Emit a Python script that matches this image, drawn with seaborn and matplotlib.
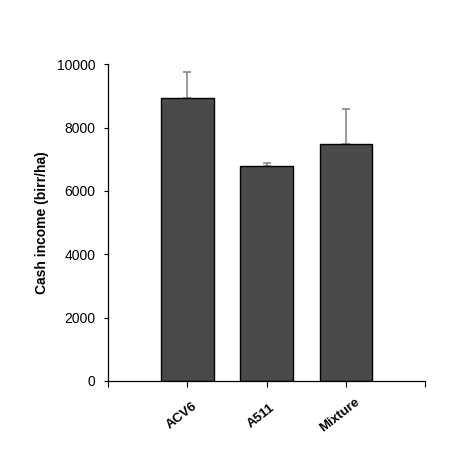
import matplotlib
matplotlib.use("Agg")
import matplotlib.pyplot as plt
import matplotlib.transforms as mtransforms
import seaborn as sns
import pandas as pd

# Data
varieties = ["ACV6", "A511", "Mixture"]
cash_income = [8920, 6790, 7490]
income_err = [820, 105, 1080]

sns.set_style("ticks")
plt.rcParams['font.family'] = ['Liberation Sans', 'DejaVu Sans']
plt.rcParams['text.color'] = 'black'
plt.rcParams['axes.labelcolor'] = 'black'
plt.rcParams['xtick.color'] = 'black'
plt.rcParams['ytick.color'] = 'black'
plt.rcParams['axes.edgecolor'] = 'black'

df = pd.DataFrame({"variety": varieties, "income": cash_income})

fig = plt.figure(figsize=(4.74, 4.72), dpi=100)
ax = fig.add_axes([0.228, 0.193, 0.669, 0.671])

sns.barplot(data=df, x="variety", y="income", color="#4a4a4a",
            edgecolor="black", linewidth=1.0, width=0.66, saturation=1,
            errorbar=None, ax=ax, zorder=2)

# upper-only error bars
ax.errorbar(range(len(varieties)), cash_income, yerr=[[0] * len(varieties), income_err],
            fmt="none", ecolor="#808080", elinewidth=1.1, capsize=3, capthick=1.1, zorder=1)

ax.set_xlim(-1, 3)
ax.set_ylim(0, 10000)
ax.set_xticks([-1, 0, 1, 2, 3])
ax.set_xticklabels(["", *varieties, ""], rotation=38, ha="center", va="center",
                   fontweight="bold", fontsize=9.5)
ax.set_yticks([0, 2000, 4000, 6000, 8000, 10000])
ax.tick_params(axis="y", labelsize=10, length=3, width=0.8, pad=6)
ax.tick_params(axis="x", length=4, width=0.8, pad=21)
ax.set_xlabel("")
ax.set_ylabel("Cash income (birr/ha)", fontweight="bold", fontsize=10, labelpad=6)

# nudge category labels slightly left, as in the original
shift = mtransforms.ScaledTranslation(-6 / 100, 0, fig.dpi_scale_trans)
for lab in ax.get_xticklabels():
    lab.set_transform(lab.get_transform() + shift)

for s in ["top", "right"]:
    ax.spines[s].set_visible(False)
for s in ["left", "bottom"]:
    ax.spines[s].set_linewidth(0.9)

fig.savefig("out.png", dpi=100, facecolor="white")
